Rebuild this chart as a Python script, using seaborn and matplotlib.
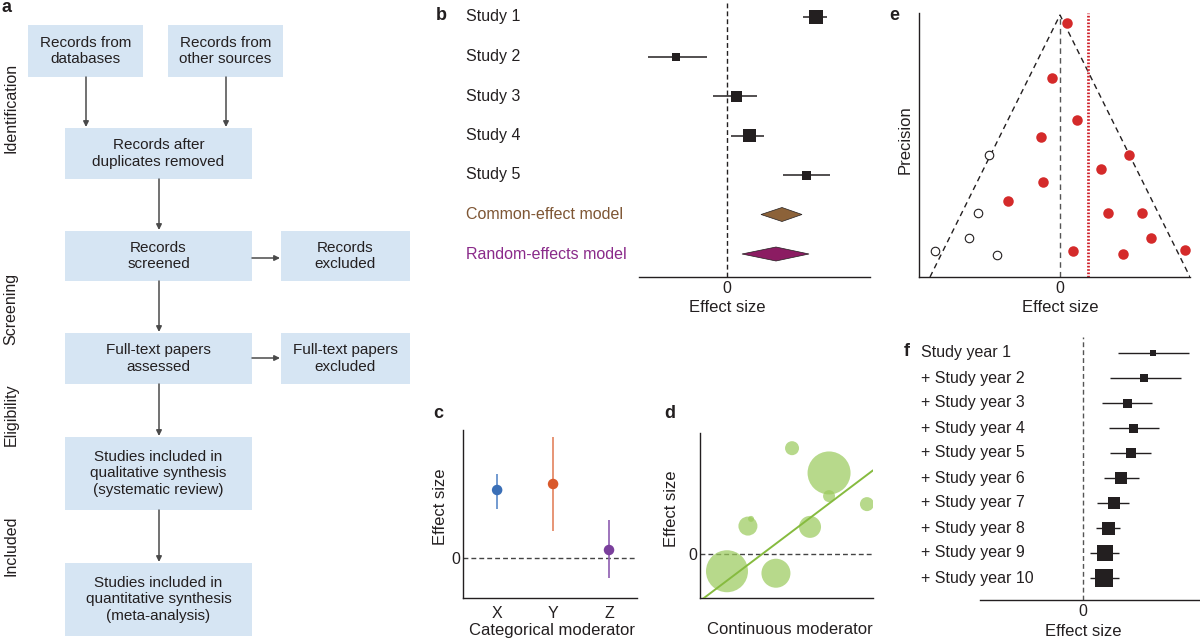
import matplotlib
matplotlib.use("Agg")
import matplotlib.pyplot as plt
import matplotlib.transforms as mtransforms
from matplotlib.patches import Rectangle, Polygon
import seaborn as sns
import numpy as np

# ---------------- data ----------------
flow_labels = ['Records from\ndatabases', 'Records from\nother sources',
               'Records after\nduplicates removed', 'Records\nscreened',
               'Records\nexcluded', 'Full-text papers\nassessed',
               'Full-text papers\nexcluded',
               'Studies included in\nqualitative synthesis\n(systematic review)',
               'Studies included in\nquantitative synthesis\n(meta-analysis)']
flow_stages = ['Identification', 'Screening', 'Eligibility', 'Included']

# b: forest plot
b_studies = ['Study 1', 'Study 2', 'Study 3', 'Study 4', 'Study 5']
b_est = [0.89, -0.51, 0.09, 0.22, 0.79]
b_lo = [0.76, -0.79, -0.14, 0.04, 0.56]
b_hi = [1.00, -0.20, 0.30, 0.37, 1.03]
b_weight = [14, 8, 11, 13, 9]
b_models = ['Common-effect model', 'Random-effects model']
b_model_est = [0.55, 0.49]
b_model_lo = [0.34, 0.15]
b_model_hi = [0.75, 0.82]

# c: categorical moderator
c_groups = ['X', 'Y', 'Z']
c_est = [1.36, 1.48, 0.16]
c_lo = [0.98, 0.54, -0.40]
c_hi = [1.68, 2.42, 0.76]

# d: continuous moderator (bubble plot)
d_mod = [1.56, 4.39, 2.77, 2.95, 5.32, 7.46, 7.46, 6.36, 9.65]
d_eff = [-0.43, -0.48, 0.70, 0.88, 2.65, 2.03, 1.45, 0.68, 1.25]
d_weight = [42, 29, 19, 6, 14, 43, 12, 22, 14]
d_fit_intercept = -1.175
d_fit_slope = 0.327

# e: funnel plot
e_obs_x = [0.07, -0.08, 0.17, -0.19, 0.69, 0.41, -0.17, -0.52, 0.48, 0.82, 0.91, 0.13, 0.63, 1.25]
e_obs_y = [2.54, 1.99, 1.57, 1.40, 1.22, 1.08, 0.95, 0.76, 0.64, 0.64, 0.39, 0.26, 0.23, 0.27]
e_fill_x = [-0.71, -0.82, -0.91, -1.25, -0.63]
e_fill_y = [1.22, 0.64, 0.39, 0.26, 0.22]
e_apex = 2.62
e_base = 1.30
e_mean = 0.28

# f: cumulative meta-analysis
f_labels = ['Study year 1'] + ['+ Study year %d' % i for i in range(2, 11)]
f_est = [0.70, 0.61, 0.44, 0.50, 0.48, 0.38, 0.31, 0.25, 0.22, 0.21]
f_lo = [0.35, 0.27, 0.19, 0.26, 0.27, 0.21, 0.14, 0.13, 0.07, 0.07]
f_hi = [1.06, 0.98, 0.69, 0.76, 0.68, 0.56, 0.46, 0.37, 0.36, 0.36]
f_weight = [6, 8, 9, 9, 10, 12, 12, 13, 16, 18]

# ---------------- style ----------------
sns.set_theme(style='ticks')
plt.rcParams['font.family'] = ['Liberation Sans', 'DejaVu Sans']
plt.rcParams['font.size'] = 11.5
INK = '#231F20'
BOX = '#D6E5F3'
DASH = (0, (3.5, 2.2))

W, H = 1200, 640
fig = plt.figure(figsize=(12, 6.4), dpi=100)


def px_axes(box):
    l, t, r, b = box
    return fig.add_axes([l / W, 1 - b / H, (r - l) / W, (b - t) / H])


def put_label(ax, box, which, text, cx, cy):
    l, t, r, b = box
    fx, fy = (cx - l) / (r - l), (b - cy) / (b - t)
    if which == 'x':
        ax.set_xlabel(text, va='center', ha='center', color=INK)
        ax.xaxis.set_label_coords(fx, fy)
    else:
        ax.set_ylabel(text, va='center', ha='center', color=INK)
        ax.yaxis.set_label_coords(fx, fy)


def style_spines(ax, keep):
    for side in ['top', 'right', 'left', 'bottom']:
        ax.spines[side].set_visible(side in keep)
        ax.spines[side].set_color(INK)
        ax.spines[side].set_linewidth(1.0)
    ax.tick_params(length=0, colors=INK, labelsize=11.5)


def sq(d):
    # marker diameter in px -> scatter size in pt^2
    return (np.asarray(d) * 0.72) ** 2


# ---------------- a: flow chart ----------------
ax_a = fig.add_axes([0, 0, 412 / W, 1])
ax_a.set_xlim(0, 412)
ax_a.set_ylim(640, 0)
ax_a.axis('off')
geom = [(28, 25, 143, 77), (168, 25, 283, 77), (65, 128, 252, 179),
        (65, 231, 252, 281), (281, 231, 410, 281), (65, 333, 252, 384),
        (281, 333, 410, 384), (65, 437, 252, 510), (65, 563, 252, 636)]
for (l, t, r, b), lab in zip(geom, flow_labels):
    ax_a.add_patch(Rectangle((l, t), r - l, b - t, facecolor=BOX, edgecolor='none'))
    ax_a.text((l + r) / 2, (t + b) / 2, lab, ha='center', va='center',
              fontsize=11, color=INK, linespacing=1.2)
arrows = [((86, 77), (86, 127)), ((226, 77), (226, 127)), ((159, 179), (159, 230)),
          ((252, 258), (280, 258)), ((159, 281), (159, 332)), ((252, 358), (280, 358)),
          ((159, 384), (159, 436)), ((159, 510), (159, 562))]
for s, e in arrows:
    ax_a.annotate('', xy=e, xytext=s,
                  arrowprops=dict(arrowstyle='-|>', color='#4A4A4A', lw=1.1,
                                  mutation_scale=8, shrinkA=0, shrinkB=0))
for lab, y in zip(flow_stages, [108, 309, 415, 546]):
    ax_a.text(11, y, lab, rotation=90, ha='center', va='center', color=INK, fontsize=11.5)

# ---------------- b: forest plot ----------------
box_b = (639, 0, 870, 277)
ax_b = px_axes(box_b)
rows = np.arange(len(b_studies) + len(b_models))
ax_b.set_xlim(-0.88, 1.43)
ax_b.set_ylim(6 + 23 / 39.5, -17 / 39.5)
ax_b.axvline(0, ymin=0, ymax=(277 - 3) / 277, color=INK, lw=1.0, ls=DASH, zorder=1)
ax_b.hlines(rows[:5], b_lo, b_hi, color=INK, lw=1.1, zorder=2)
sns.scatterplot(x=b_est, y=rows[:5], marker='s', s=sq(b_weight), color=INK,
                linewidth=0, legend=False, ax=ax_b, zorder=3)
model_cols = ['#8C6239', '#8B1C62']
label_cols = [INK] * 5 + ['#7E5634', '#8A2A8A']
h = 7 / 39.5
for i, (est, lo, hi) in enumerate(zip(b_model_est, b_model_lo, b_model_hi)):
    y = rows[5 + i]
    ax_b.add_patch(Polygon([(lo, y), (est, y - h), (hi, y), (est, y + h)], closed=True,
                           facecolor=model_cols[i], edgecolor=INK, lw=0.5, zorder=3))
trans = mtransforms.blended_transform_factory(fig.transFigure, ax_b.transData)
for y, lab, col in zip(rows, b_studies + b_models, label_cols):
    ax_b.text(466 / W, y, lab, transform=trans, ha='left', va='center', color=col)
style_spines(ax_b, ['bottom'])
ax_b.set_yticks([])
ax_b.set_xticks([0])
ax_b.set_xticklabels(['0'])
ax_b.tick_params(axis='x', pad=3)
put_label(ax_b, box_b, 'x', 'Effect size', 727, 308)

# ---------------- e: funnel plot ----------------
box_e = (919, 13, 1190, 277)
ax_e = px_axes(box_e)
ax_e.set_xlim(-1.41, 1.30)
ax_e.set_ylim(0, 2.64)
ax_e.plot([-e_base, 0, e_base], [0, e_apex, 0], color=INK, lw=1.0, ls=(0, (4, 3)), zorder=1)
ax_e.plot([0, 0], [0, e_apex], color='#555555', lw=1.0, ls=(0, (4, 3)), zorder=1)
ax_e.axvline(e_mean, color='#D0202A', lw=2.0, ls=(0, (0.6, 0.6)), zorder=1)
sns.scatterplot(x=e_obs_x, y=e_obs_y, color='#D42A2A', s=sq(10.5), linewidth=0,
                legend=False, ax=ax_e, zorder=3, clip_on=False)
sns.scatterplot(x=e_fill_x, y=e_fill_y, color='white', edgecolor=INK, s=sq(8.5),
                linewidth=0.8, legend=False, ax=ax_e, zorder=3, clip_on=False)
style_spines(ax_e, ['left', 'bottom'])
ax_e.set_yticks([])
ax_e.set_xticks([0])
ax_e.set_xticklabels(['0'])
ax_e.tick_params(axis='x', pad=3)
put_label(ax_e, box_e, 'x', 'Effect size', 1060, 308)
put_label(ax_e, box_e, 'y', 'Precision', 905, 140)

# ---------------- c: categorical moderator ----------------
box_c = (463, 430, 637, 598)
ax_c = px_axes(box_c)
xc = np.arange(len(c_groups))
ax_c.set_xlim(-0.61, 2.5)
ax_c.set_ylim(-0.80, 2.56)
ax_c.axhline(0, color='#444444', lw=1.0, ls=DASH, zorder=1)
dot_cols = ['#3A6FB7', '#D9592B', '#7A3F9C']
line_cols = ['#5A89C8', '#E3835E', '#8E5CB0']
ax_c.vlines(xc, c_lo, c_hi, colors=line_cols, lw=1.2, zorder=2)
sns.scatterplot(x=xc, y=c_est, hue=c_groups, palette=dot_cols, s=sq(10.5), linewidth=0,
                legend=False, ax=ax_c, zorder=3)
style_spines(ax_c, ['left', 'bottom'])
ax_c.set_xticks(xc)
ax_c.set_xticklabels(c_groups)
ax_c.set_yticks([0])
ax_c.set_yticklabels(['0'])
ax_c.tick_params(axis='x', pad=6)
ax_c.tick_params(axis='y', pad=2)
put_label(ax_c, box_c, 'x', 'Categorical moderator', 552, 630)
put_label(ax_c, box_c, 'y', 'Effect size', 441, 507)

# ---------------- d: continuous moderator ----------------
box_d = (700, 433, 873, 598)
ax_d = px_axes(box_d)
ax_d.set_xlim(0, 10)
ax_d.set_ylim(-1.10, 3.03)
ax_d.axhline(0, color='#444444', lw=1.0, ls=DASH, zorder=1)
sns.scatterplot(x=d_mod, y=d_eff, s=sq(d_weight), color='#9CCB5E', alpha=0.72,
                linewidth=0, legend=False, ax=ax_d, zorder=2)
fit_x = np.array(ax_d.get_xlim())
ax_d.plot(fit_x, d_fit_intercept + d_fit_slope * fit_x, color='#86BB3F', lw=1.4, zorder=3)
style_spines(ax_d, ['left', 'bottom'])
ax_d.set_xticks([])
ax_d.set_yticks([0])
ax_d.set_yticklabels(['0'])
ax_d.tick_params(axis='y', pad=2)
put_label(ax_d, box_d, 'x', 'Continuous moderator', 790, 630)
put_label(ax_d, box_d, 'y', 'Effect size', 671, 509)

# ---------------- f: cumulative forest ----------------
box_f = (980, 337, 1200, 600)
ax_f = px_axes(box_f)
rf = np.arange(len(f_labels))
ax_f.set_xlim(-1.03, 1.17)
ax_f.set_ylim(9 + 22 / 25, -16 / 25)
ax_f.axvline(0, color='#555555', lw=1.0, ls=DASH, zorder=1)
ax_f.hlines(rf, f_lo, f_hi, color=INK, lw=1.0, zorder=2)
sns.scatterplot(x=f_est, y=rf, marker='s', s=sq(f_weight), color=INK, linewidth=0,
                legend=False, ax=ax_f, zorder=3)
trans_f = mtransforms.blended_transform_factory(fig.transFigure, ax_f.transData)
for y, lab in zip(rf, f_labels):
    ax_f.text(921 / W, y, lab, transform=trans_f, ha='left', va='center', color=INK)
style_spines(ax_f, ['bottom'])
ax_f.set_yticks([])
ax_f.set_xticks([0])
ax_f.set_xticklabels(['0'])
ax_f.tick_params(axis='x', pad=3)
put_label(ax_f, box_f, 'x', 'Effect size', 1083, 632)

# ---------------- panel letters ----------------
for lab, x, y in [('a', 6, 8), ('b', 441, 15), ('e', 894, 15),
                  ('c', 438, 414), ('d', 670, 414), ('f', 907, 352)]:
    fig.text(x / W, 1 - y / H, lab, fontsize=13, fontweight='bold', color=INK,
             ha='center', va='center')

fig.savefig('out.png', dpi=100)
